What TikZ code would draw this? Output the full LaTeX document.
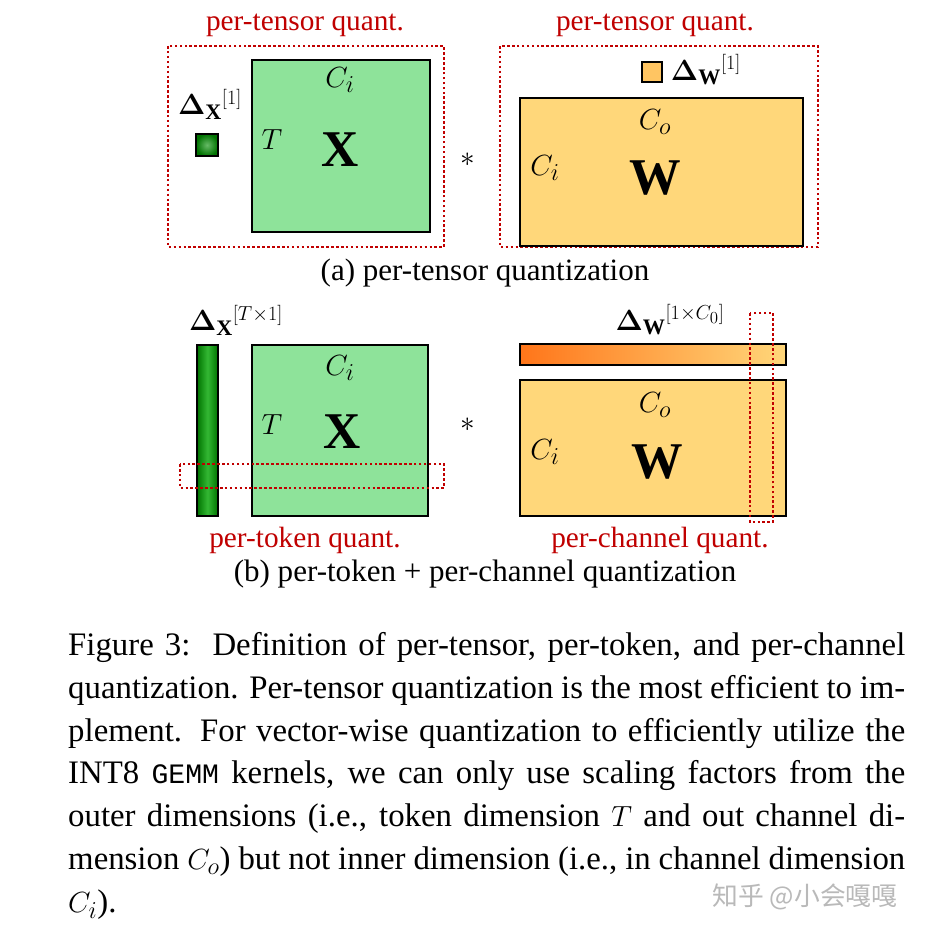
\documentclass[tikz,border=0pt]{standalone}
\usepackage{amsmath}
\usepackage{bm}
\usepackage{fontspec}
\setmainfont{Liberation Serif}
\setmonofont{Liberation Mono}
\newfontfamily\cjk{Noto Sans CJK SC}
\usetikzlibrary{positioning}
\definecolor{matgreen}{HTML}{8EE39A}
\definecolor{matorange}{HTML}{FFD77A}
\definecolor{quantred}{HTML}{C00000}
\tikzset{
  mat/.style={draw=black,line width=1.6pt},
  scale box/.style={draw=black,line width=1.2pt},
  quant box/.style={draw=quantred,line width=2.2pt,dotted},
  quant label/.style={text=quantred,font=\fontsize{25}{25}\selectfont},
  dim/.style={font=\fontsize{28}{28}\selectfont},
  big/.style={font=\fontsize{44}{44}\selectfont\bfseries},
  sub caption/.style={font=\fontsize{26.5}{26.5}\selectfont},
  delta/.style={font=\fontsize{27}{27}\selectfont}
}
\begin{document}
\begin{tikzpicture}[x=0.03cm,y=-0.03cm]
\useasboundingbox[fill=white] (0,0) rectangle (930,936);
% (a) per-tensor
\draw[quant box] (168,46) rectangle (444,247);
\draw[quant box] (500,46) rectangle (818,247);
\node[quant label] (qa1) at (305,25) {per-tensor quant.};
\node[quant label] (qa2) at (655,25) {per-tensor quant.};
\draw[mat,fill=matgreen] (252,60) rectangle (430,232);
\node[dim] (ciXa) at (340,80) {$C_i$};
\node[dim] (tXa) at (272,140) {$T$};
\node[big] (Xa) at (340,150) {X};
\draw[scale box,inner color=green!55!black!60,outer color=green!45!black] (196,134) rectangle (218,156);
\node[delta] (dxa) at (210,104) {$\bm{\Delta}_{\mathbf{X}}{}^{[1]}$};
\node[font=\fontsize{44}{44}\selectfont] (stara) at (468,160) {$*$};
\draw[mat,fill=matorange] (520,98) rectangle (803,246);
\node[dim] (coWa) at (655,122) {$C_o$};
\node[dim] (ciWa) at (545,168) {$C_i$};
\node[big] (Wa) at (655,178) {W};
\draw[scale box,fill=matorange!80!orange] (642,62) rectangle (662,82);
\node[delta] (dwa) at (706,70) {$\bm{\Delta}_{\mathbf{W}}{}^{[1]}$};
\node[sub caption] (capa) at (485,273) {(a) per-tensor quantization};
% (b) per-token + per-channel
\draw[scale box,left color=green!45!black,right color=green!45!black,middle color=green!65!black!80] (197,345) rectangle (218,516);
\node[delta] (dxb) at (236,320) {$\bm{\Delta}_{\mathbf{X}}{}^{[T\times 1]}$};
\draw[mat,fill=matgreen] (252,345) rectangle (428,516);
\node[dim] (ciXb) at (340,368) {$C_i$};
\node[dim] (tXb) at (272,425) {$T$};
\node[big] (Xb) at (342,432) {X};
\draw[quant box] (180,464) rectangle (444,488);
\node[font=\fontsize{44}{44}\selectfont] (starb) at (468,425) {$*$};
\draw[scale box,left color=orange!80!red!90,right color=matorange] (520,344) rectangle (786,365);
\node[delta] (dwb) at (670,320) {$\bm{\Delta}_{\mathbf{W}}{}^{[1\times C_0]}$};
\draw[mat,fill=matorange] (520,380) rectangle (786,516);
\node[dim] (coWb) at (655,405) {$C_o$};
\node[dim] (ciWb) at (545,452) {$C_i$};
\node[big] (Wb) at (657,462) {W};
\draw[quant box] (750,313) rectangle (773,522);
\node[quant label] (qb1) at (305,540) {per-token quant.};
\node[quant label] (qb2) at (660,540) {per-channel quant.};
\node[sub caption] (capb) at (485,574) {(b) per-token + per-channel quantization};
% figure caption
\node[anchor=north west,inner sep=0pt,text width=25.11cm,align=justify,
  font=\fontsize{28}{36.6}\selectfont] (fig) at (68,632)
  {Figure 3:\ \ Definition of per-tensor, per-token, and per-channel quantization. Per-tensor quantization is the most efficient to implement. For vector-wise quantization to efficiently utilize the INT8 {\ttfamily\fontsize{24}{24}\selectfont GEMM} kernels, we can only use scaling factors from the outer dimensions (i.e., token dimension $T$ and out channel dimension $C_o$) but not inner dimension (i.e., in channel dimension $C_i$).};
\node[text=gray!55,font=\cjk\fontsize{22}{22}\selectfont] (mark) at (805,897) {知乎 @小会嘎嘎};
\end{tikzpicture}
\end{document}
